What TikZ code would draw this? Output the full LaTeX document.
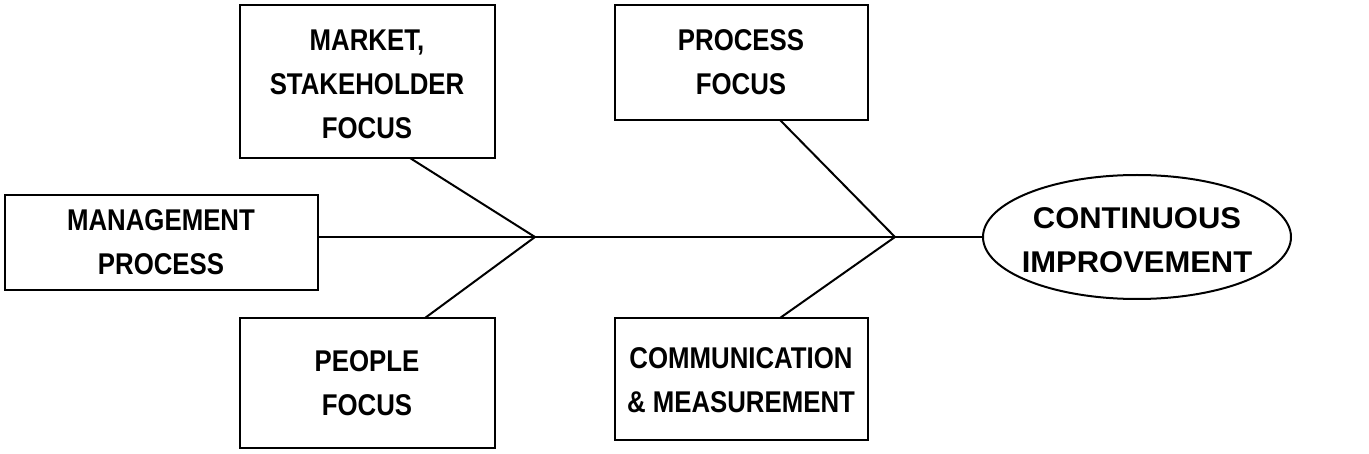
\documentclass[tikz,border=0pt]{standalone}
\usepackage{fontspec}
\setmainfont{Liberation Sans}
\usetikzlibrary{shapes.geometric}
\begin{document}
\begin{tikzpicture}[x=1pt,y=-1pt,
  lbl/.style={font=\fontsize{30}{44}\selectfont\bfseries,align=center,xscale=0.86},
  bx/.style={draw,line width=2pt},
  ln/.style={line width=2pt}]
\useasboundingbox (0,0) rectangle (1369,454);
\draw[bx] (240,5) rectangle (495,158);
\node[lbl] (market) at (367,84) {MARKET,\\STAKEHOLDER\\FOCUS};
\draw[bx] (615,5) rectangle (868,120);
\node[lbl] (proc) at (741,62) {PROCESS\\FOCUS};
\draw[bx] (5,195) rectangle (318,290);
\node[lbl] (mgmt) at (161,242) {MANAGEMENT\\PROCESS};
\draw[bx] (240,318) rectangle (495,448);
\node[lbl] (people) at (367,383) {PEOPLE\\FOCUS};
\draw[bx] (615,318) rectangle (868,440);
\node[lbl] (comm) at (741,380) {COMMUNICATION\\\& MEASUREMENT};
\node[draw,ellipse,line width=2pt,minimum width=308pt,minimum height=124pt] (ci) at (1137,237) {};
\node[lbl,xscale=1.2] at (1137,240) {CONTINUOUS\\IMPROVEMENT};
\coordinate (j1) at (535,237);
\coordinate (j2) at (895,237);
\coordinate (m) at (318,237);
\coordinate (a1) at (410,158);
\coordinate (a2) at (425,318);
\coordinate (b1) at (780,120);
\coordinate (b2) at (780,318);
\draw[ln] (m) -- (ci.west);
\draw[ln] (a1) -- (j1) -- (a2);
\draw[ln] (b1) -- (j2) -- (b2);
\end{tikzpicture}
\end{document}
